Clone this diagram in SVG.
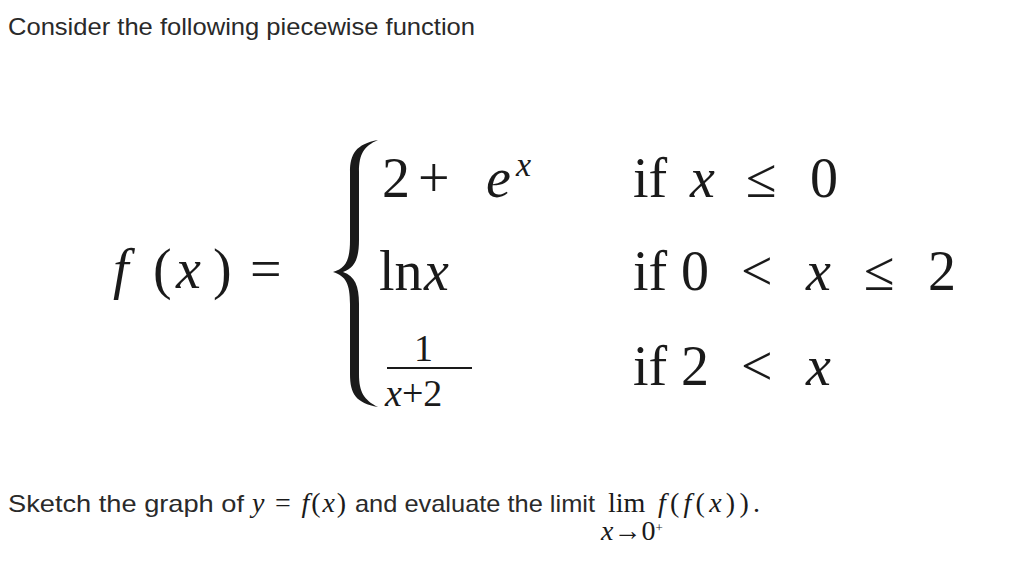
<svg xmlns="http://www.w3.org/2000/svg" width="1014" height="570" viewBox="0 0 1014 570">
<style>
.s{font-family:"Liberation Sans",Arial,sans-serif;font-size:24px;fill:#2a2a2a}
.m{font-family:"Liberation Serif","Times New Roman",serif;font-size:56px;fill:#1a1a1a}
.ms{font-family:"Liberation Serif","Times New Roman",serif;font-size:28px;fill:#1a1a1a}
.i{font-style:italic}
</style>
<rect width="1014" height="570" fill="#fff"/>
<text class="s" x="8" y="35" textLength="467" lengthAdjust="spacingAndGlyphs">Consider the following piecewise function</text>
<g class="m">
<text x="113" y="288" class="i">f</text>
<text x="153" y="288">(</text>
<text x="176" y="288" class="i">x</text>
<text x="213" y="288">)</text>
<text x="250" y="288">=</text>
</g>
<path d="M378,140 C356,144 350,154 350,172 L350,240 C350,260 346,268 333,272 C346,276 350,284 350,304 L350,374 C350,394 356,403 378,407 C364,400 359,392 359,374 L359,304 C359,286 355,276 343,272 C355,268 359,258 359,240 L359,172 C359,154 364,146 378,140 Z" fill="#1a1a1a"/>
<g class="m">
<text x="382" y="197">2</text>
<text x="418" y="197">+</text>
<text x="486" y="197" class="i">e</text>
<text x="516" y="176" class="i" font-size="34">x</text>
<text x="379" y="290">ln</text>
<text x="424" y="290" class="i">x</text>
<text x="414" y="361" font-size="38">1</text>
<text x="385" y="406" font-size="38"><tspan class="i">x</tspan>+2</text>
</g>
<line x1="387" y1="368" x2="472" y2="368" stroke="#1a1a1a" stroke-width="2"/>
<g class="m">
<text x="633" y="197">if</text>
<text x="690" y="197" class="i">x</text>
<text x="746" y="197">≤</text>
<text x="810" y="197">0</text>
<text x="633" y="290">if</text>
<text x="681" y="290">0</text>
<text x="741" y="290">&lt;</text>
<text x="806" y="290" class="i">x</text>
<text x="864" y="290">≤</text>
<text x="928" y="290">2</text>
<text x="633" y="385">if</text>
<text x="681" y="385">2</text>
<text x="741" y="385">&lt;</text>
<text x="806" y="385" class="i">x</text>
</g>
<text class="s" x="8" y="512" textLength="236" lengthAdjust="spacingAndGlyphs">Sketch the graph of</text>
<text class="ms" x="252" y="512" textLength="94" lengthAdjust="spacing"><tspan class="i">y</tspan> = <tspan class="i">f</tspan>(<tspan class="i">x</tspan>)</text>
<text class="s" x="355" y="512" textLength="240" lengthAdjust="spacingAndGlyphs">and evaluate the limit</text>
<text class="ms" x="608" y="512">lim</text>
<text class="ms" x="658" y="512" textLength="102" lengthAdjust="spacing"><tspan class="i">f</tspan>(<tspan class="i">f</tspan>(<tspan class="i">x</tspan>)).</text>
<text class="ms" x="601" y="540" font-size="18"><tspan class="i">x</tspan>→0<tspan font-size="13" dy="-8">+</tspan></text>
</svg>
